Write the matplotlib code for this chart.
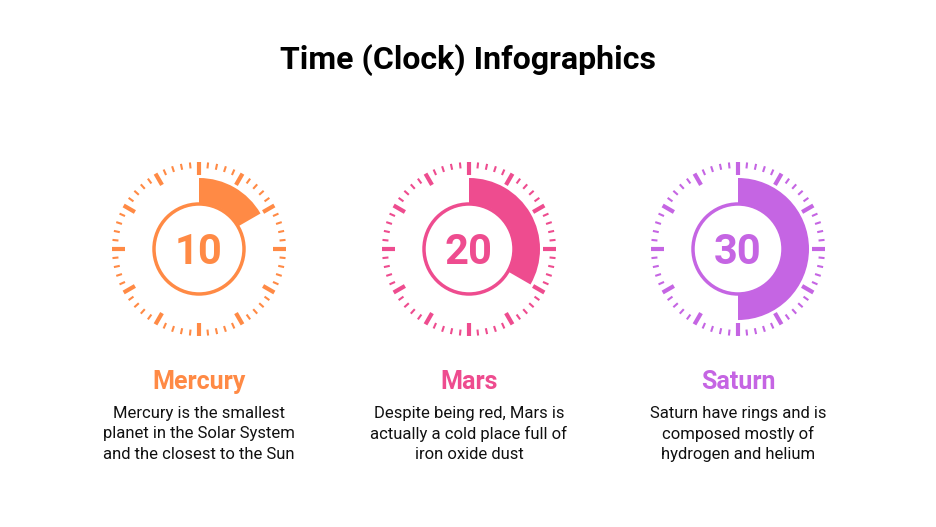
import matplotlib
matplotlib.use("Agg")
import matplotlib.pyplot as plt
import numpy as np
from matplotlib.patches import Wedge, Circle

names = ["Mercury", "Mars", "Saturn"]
values = [10, 20, 30]
descs = ["Mercury is the smallest\nplanet in the Solar System\nand the closest to the Sun",
         "Despite being red, Mars is\nactually a cold place full of\niron oxide dust",
         "Saturn have rings and is\ncomposed mostly of\nhydrogen and helium"]
colors = ["#FF8A45", "#EE4C8F", "#C565E3"]
centers_x = [199, 469, 738]
cy = 249

fig = plt.figure(figsize=(9.37, 5.27), dpi=100)
ax = fig.add_axes([0, 0, 1, 1])
ax.set_xlim(0, 937); ax.set_ylim(527, 0); ax.set_aspect("equal"); ax.axis("off")

fig.text(0.5, 1 - 60/527, "Time (Clock) Infographics", ha="center", va="center",
         fontsize=23, fontweight="bold", family="Roboto", color="black")

for cx, v, n, d, c in zip(centers_x, values, names, descs, colors):
    for i in range(60):
        a = np.deg2rad(90 - i * 6)
        major = i % 5 == 0
        r0 = 74 if major else 81
        r1 = 87
        ax.plot([cx + r0*np.cos(a), cx + r1*np.cos(a)],
                [cy - r0*np.sin(a), cy - r1*np.sin(a)],
                color=c, lw=3 if major else 1.5, solid_capstyle="butt")
    ax.add_patch(Wedge((cx, cy), 71, 270, 270 + v*6, width=25, color=c, lw=0))
    ax.add_patch(Circle((cx, cy), 45, fill=False, ec=c, lw=2.5))
    ax.text(cx, cy + 4, str(v), ha="center", va="center", fontsize=30,
            fontweight="bold", family="Roboto", color=c)
    ax.text(cx, 382, n, ha="center", va="center", fontsize=18,
            fontweight="bold", family="Roboto", color=c)
    ax.text(cx, 434, d, ha="center", va="center", fontsize=12,
            family="Roboto", color="#111111", linespacing=1.42)

fig.savefig("out.png", dpi=100)
